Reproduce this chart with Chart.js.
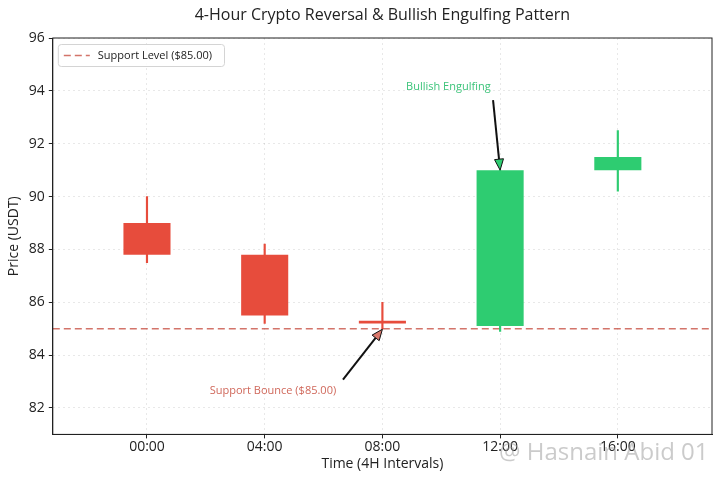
<!DOCTYPE html>
<html>
<head>
<meta charset="utf-8">
<script src="https://cdn.jsdelivr.net/npm/chart.js@4.4.1/dist/chart.umd.min.js"></script>
<style>
  html, body { margin: 0; padding: 0; background: #fff; }
  #wrap { position: relative; width: 720px; height: 477px; }
  #mark {
    position: absolute; left: 499px; top: 434px;
    font-family: "Open Sans", sans-serif; font-size: 24px;
    color: rgba(160, 160, 160, 0.55); white-space: nowrap;
  }
</style>
</head>
<body>
<div id="wrap">
  <canvas id="candles" width="720" height="477"></canvas>
  <div id="mark">@ Hasnain Abid 01</div>
</div>
<script>
// candle data, one entry per 4h interval
const times = ['00:00', '04:00', '08:00', '12:00', '16:00'];
const opens  = [89.0, 87.8, 85.3, 85.1, 91.0];
const closes = [87.8, 85.5, 85.2, 91.0, 91.5];
const highs  = [90.0, 88.2, 86.0, 91.0, 92.5];
const lows   = [87.5, 85.2, 85.0, 84.9, 90.2];
const yTicks = [82, 84, 86, 88, 90, 92, 94, 96];
const supportLevel = 85.0;

const xMin = -0.8, xMax = 4.8;
const upColor = '#2ecc71';
const downColor = '#e74c3c';
const FONT = '"Open Sans", sans-serif';
const titleText = '4-Hour Crypto Reversal & Bullish Engulfing Pattern';

const colors = opens.map((o, i) => closes[i] >= o ? upColor : downColor);

const bodies = times.map((t, i) => ({ x: i, y: [opens[i], closes[i]] }));
const wicks = times.map((t, i) => ({ x: i, y: [lows[i], highs[i]] }));

// notes pointing at candles (value coords)
const notes = [
  { text: 'Bullish Engulfing', color: '#3cc47a', tx: 2.56, ty: 94.15,
    from: [2.94, 93.65], to: [3, 91.0], head: upColor },
  { text: 'Support Bounce ($85.00)', color: '#d0685b', tx: 1.07, ty: 82.64,
    from: [1.665, 83.07], to: [2, 84.98], head: '#d9776b' }
];

const extras = {
  id: 'extras',
  afterDatasetsDraw(chart) {
    const ctx = chart.ctx;
    const xs = chart.scales.x, ys = chart.scales.y;
    notes.forEach(n => {
      const x1 = xs.getPixelForValue(n.from[0]), y1 = ys.getPixelForValue(n.from[1]);
      const x2 = xs.getPixelForValue(n.to[0]), y2 = ys.getPixelForValue(n.to[1]);
      const ang = Math.atan2(y2 - y1, x2 - x1);
      const len = 11, half = 4.5;
      const bx = x2 - len * Math.cos(ang), by = y2 - len * Math.sin(ang);
      ctx.save();
      ctx.strokeStyle = '#111';
      ctx.lineWidth = 2;
      ctx.beginPath();
      ctx.moveTo(x1, y1);
      ctx.lineTo(bx, by);
      ctx.stroke();
      ctx.beginPath();
      ctx.moveTo(x2, y2);
      ctx.lineTo(bx + half * Math.sin(ang), by - half * Math.cos(ang));
      ctx.lineTo(bx - half * Math.sin(ang), by + half * Math.cos(ang));
      ctx.closePath();
      ctx.fillStyle = n.head;
      ctx.fill();
      ctx.lineWidth = 1;
      ctx.stroke();
      ctx.fillStyle = n.color;
      ctx.font = '11px ' + FONT;
      ctx.textAlign = 'center';
      ctx.textBaseline = 'middle';
      ctx.fillText(n.text, xs.getPixelForValue(n.tx), ys.getPixelForValue(n.ty));
      ctx.restore();
    });
  },
  afterDraw(chart) {
    const ctx = chart.ctx;
    const a = chart.chartArea;
    ctx.save();
    // frame round the plot
    ctx.strokeStyle = '#222';
    ctx.lineWidth = 1;
    ctx.strokeRect(a.left, a.top, a.right - a.left, a.bottom - a.top);

    // title centred over the plot
    ctx.fillStyle = '#222';
    ctx.font = '16px ' + FONT;
    ctx.textAlign = 'center';
    ctx.textBaseline = 'middle';
    ctx.fillText(titleText, (a.left + a.right) / 2, 15);

    // legend box, top left inside the plot
    const ds = chart.data.datasets[2];
    ctx.font = '11px ' + FONT;
    const tw = ctx.measureText(ds.label).width;
    const lx = a.left + 5, ly = a.top + 6, lh = 22, lw = tw + 52;
    ctx.beginPath();
    ctx.roundRect(lx + 0.5, ly + 0.5, lw, lh, 3);
    ctx.fillStyle = 'rgba(255,255,255,0.85)';
    ctx.fill();
    ctx.strokeStyle = '#d4d4d4';
    ctx.stroke();
    ctx.strokeStyle = ds.borderColor;
    ctx.lineWidth = ds.borderWidth;
    ctx.setLineDash(ds.borderDash);
    ctx.beginPath();
    ctx.moveTo(lx + 6, ly + lh / 2 + 0.5);
    ctx.lineTo(lx + 32, ly + lh / 2 + 0.5);
    ctx.stroke();
    ctx.setLineDash([]);
    ctx.fillStyle = '#222';
    ctx.textAlign = 'left';
    ctx.fillText(ds.label, lx + 40, ly + lh / 2 + 1);
    ctx.restore();
  }
};

new Chart(document.getElementById('candles'), {
  type: 'bar',
  data: {
    datasets: [
      {
        label: 'body',
        data: bodies,
        backgroundColor: colors,
        borderColor: colors,
        borderWidth: 0,
        categoryPercentage: 0.8,
        barPercentage: 0.5
      },
      {
        label: 'wick',
        data: wicks,
        backgroundColor: colors,
        barThickness: 1.5
      },
      {
        type: 'line',
        label: 'Support Level ($85.00)',
        data: [{ x: xMin, y: supportLevel }, { x: xMax, y: supportLevel }],
        borderColor: 'rgba(192, 57, 43, 0.7)',
        borderWidth: 1.5,
        borderDash: [7, 4],
        pointRadius: 0
      }
    ]
  },
  options: {
    responsive: false,
    animation: false,
    grouped: false,
    layout: { padding: { left: 2, right: 8, top: 38, bottom: 1 } },
    plugins: {
      title: { display: false },
      legend: { display: false },
      tooltip: { enabled: false }
    },
    scales: {
      x: {
        type: 'linear',
        min: xMin,
        max: xMax,
        offset: false,
        afterBuildTicks: s => { s.ticks = times.map((t, i) => ({ value: i })); },
        ticks: {
          callback: v => times[v],
          color: '#222',
          font: { family: FONT, size: 14 },
          padding: 0
        },
        grid: { offset: false, color: 'rgba(0,0,0,0.09)', tickColor: '#222', tickLength: 4 },
        border: { color: '#222', dash: [2, 3] },
        title: {
          display: true, text: 'Time (4H Intervals)', color: '#222',
          font: { family: FONT, size: 14 }, padding: { top: 0 }
        }
      },
      y: {
        min: 81,
        max: 96,
        afterBuildTicks: s => { s.ticks = yTicks.map(v => ({ value: v })); },
        ticks: {
          color: '#222',
          font: { family: FONT, size: 14 },
          padding: 4
        },
        grid: { color: 'rgba(0,0,0,0.09)', tickColor: '#222', tickLength: 4 },
        border: { color: '#222', dash: [2, 3] },
        title: {
          display: true, text: 'Price (USDT)', color: '#222',
          font: { family: FONT, size: 14 }, padding: { bottom: 2 }
        }
      }
    }
  },
  plugins: [extras]
});
</script>
</body>
</html>
